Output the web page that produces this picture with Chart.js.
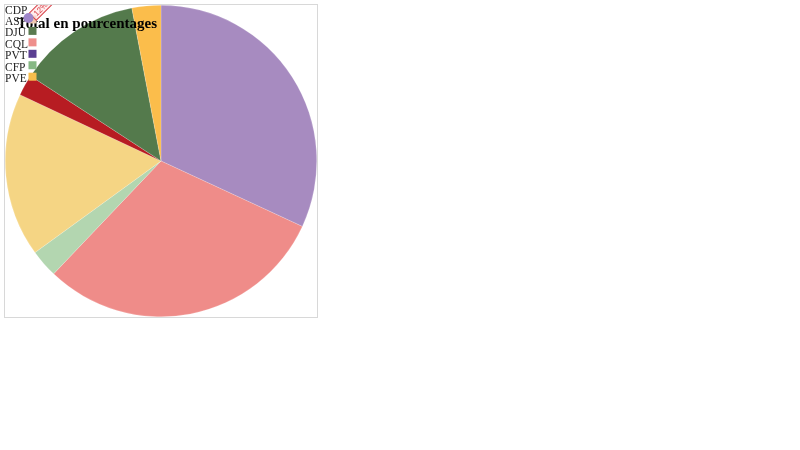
<!DOCTYPE html>
<html>
<head>
<meta charset="utf-8">
<script src="https://cdn.jsdelivr.net/npm/chart.js@4"></script>
<style>
  html, body { margin: 0; padding: 0; background: #fff; }
  #box { position: absolute; left: 4px; top: 4px; width: 312px; height: 312px; border: 1px solid #d8d8d8; }
  canvas { display: block; }
</style>
</head>
<body>
<div id="box"><canvas id="c" width="312" height="312"></canvas></div>
<script>
// Slices in drawing order (clockwise from 12 o'clock)
const sliceLabels = ['CDP', 'CQL', 'CFP', 'ASP', 'PVT', 'DJU', 'PVE'];
const sliceValues = [31.9, 30.2, 2.9, 17.0, 2.2, 12.8, 3.0];
const sliceColors = ['#a78bc0', '#ef8c89', '#b3d6b0', '#f5d584', '#b71c22', '#547a4c', '#fbbd4b'];

// Legend as shown in the picture
const legendLabels = ['CDP', 'ASP', 'DJU', 'CQL', 'PVT', 'CFP', 'PVE'];
const legendColors = ['#9f86c9', '#f0c8b0', '#5a7a4f', '#ee8f8c', '#5b3f92', '#86b884', '#f8be4d'];

const titleText = 'Total en pourcentages';
const stampText = '12%';

const overlay = {
  id: 'overlay',
  afterDraw(chart) {
    const ctx = chart.ctx;
    ctx.save();
    // title
    ctx.font = 'bold 15px "Liberation Serif", "DejaVu Serif", serif';
    ctx.fillStyle = '#000';
    ctx.textAlign = 'left';
    ctx.textBaseline = 'alphabetic';
    ctx.fillText(titleText, 12, 23);
    // legend
    ctx.font = '11.5px "Liberation Serif", "DejaVu Serif", serif';
    legendLabels.forEach((lab, i) => {
      const cy = 3 + i * 11.45;
      ctx.fillStyle = '#222';
      ctx.fillText(lab, 0, cy + 5.5);
      if (i > 0) {
        ctx.fillStyle = legendColors[i];
        ctx.fillRect(23.5, cy - 4, 8, 8);
      }
    });
    // stamp
    ctx.save();
    ctx.translate(35.5, 4);
    ctx.rotate(-Math.PI / 4);
    ctx.fillStyle = 'rgba(255,225,225,0.6)';
    ctx.strokeStyle = '#d9424a';
    ctx.lineWidth = 1;
    ctx.fillRect(-11, -5, 22, 10);
    ctx.strokeRect(-11, -5, 22, 10);
    ctx.fillStyle = '#d9424a';
    ctx.font = '8px "Liberation Sans", sans-serif';
    ctx.textAlign = 'center';
    ctx.textBaseline = 'middle';
    ctx.fillText(stampText, 0, 0.5);
    ctx.restore();
    // CDP marker (circle)
    ctx.fillStyle = legendColors[0];
    ctx.beginPath();
    ctx.arc(23.5, 13, 5, 0, Math.PI * 2);
    ctx.closePath();
    ctx.fill();
    ctx.restore();
  }
};

new Chart(document.getElementById('c'), {
  type: 'pie',
  data: {
    labels: sliceLabels,
    datasets: [{
      data: sliceValues,
      backgroundColor: sliceColors,
      borderWidth: 0.5,
      borderColor: 'rgba(255,255,255,0.35)'
    }]
  },
  options: {
    responsive: false,
    animation: false,
    layout: { padding: 0 },
    plugins: {
      legend: { display: false },
      title: { display: false },
      tooltip: { enabled: false }
    }
  },
  plugins: [overlay]
});
</script>
</body>
</html>
